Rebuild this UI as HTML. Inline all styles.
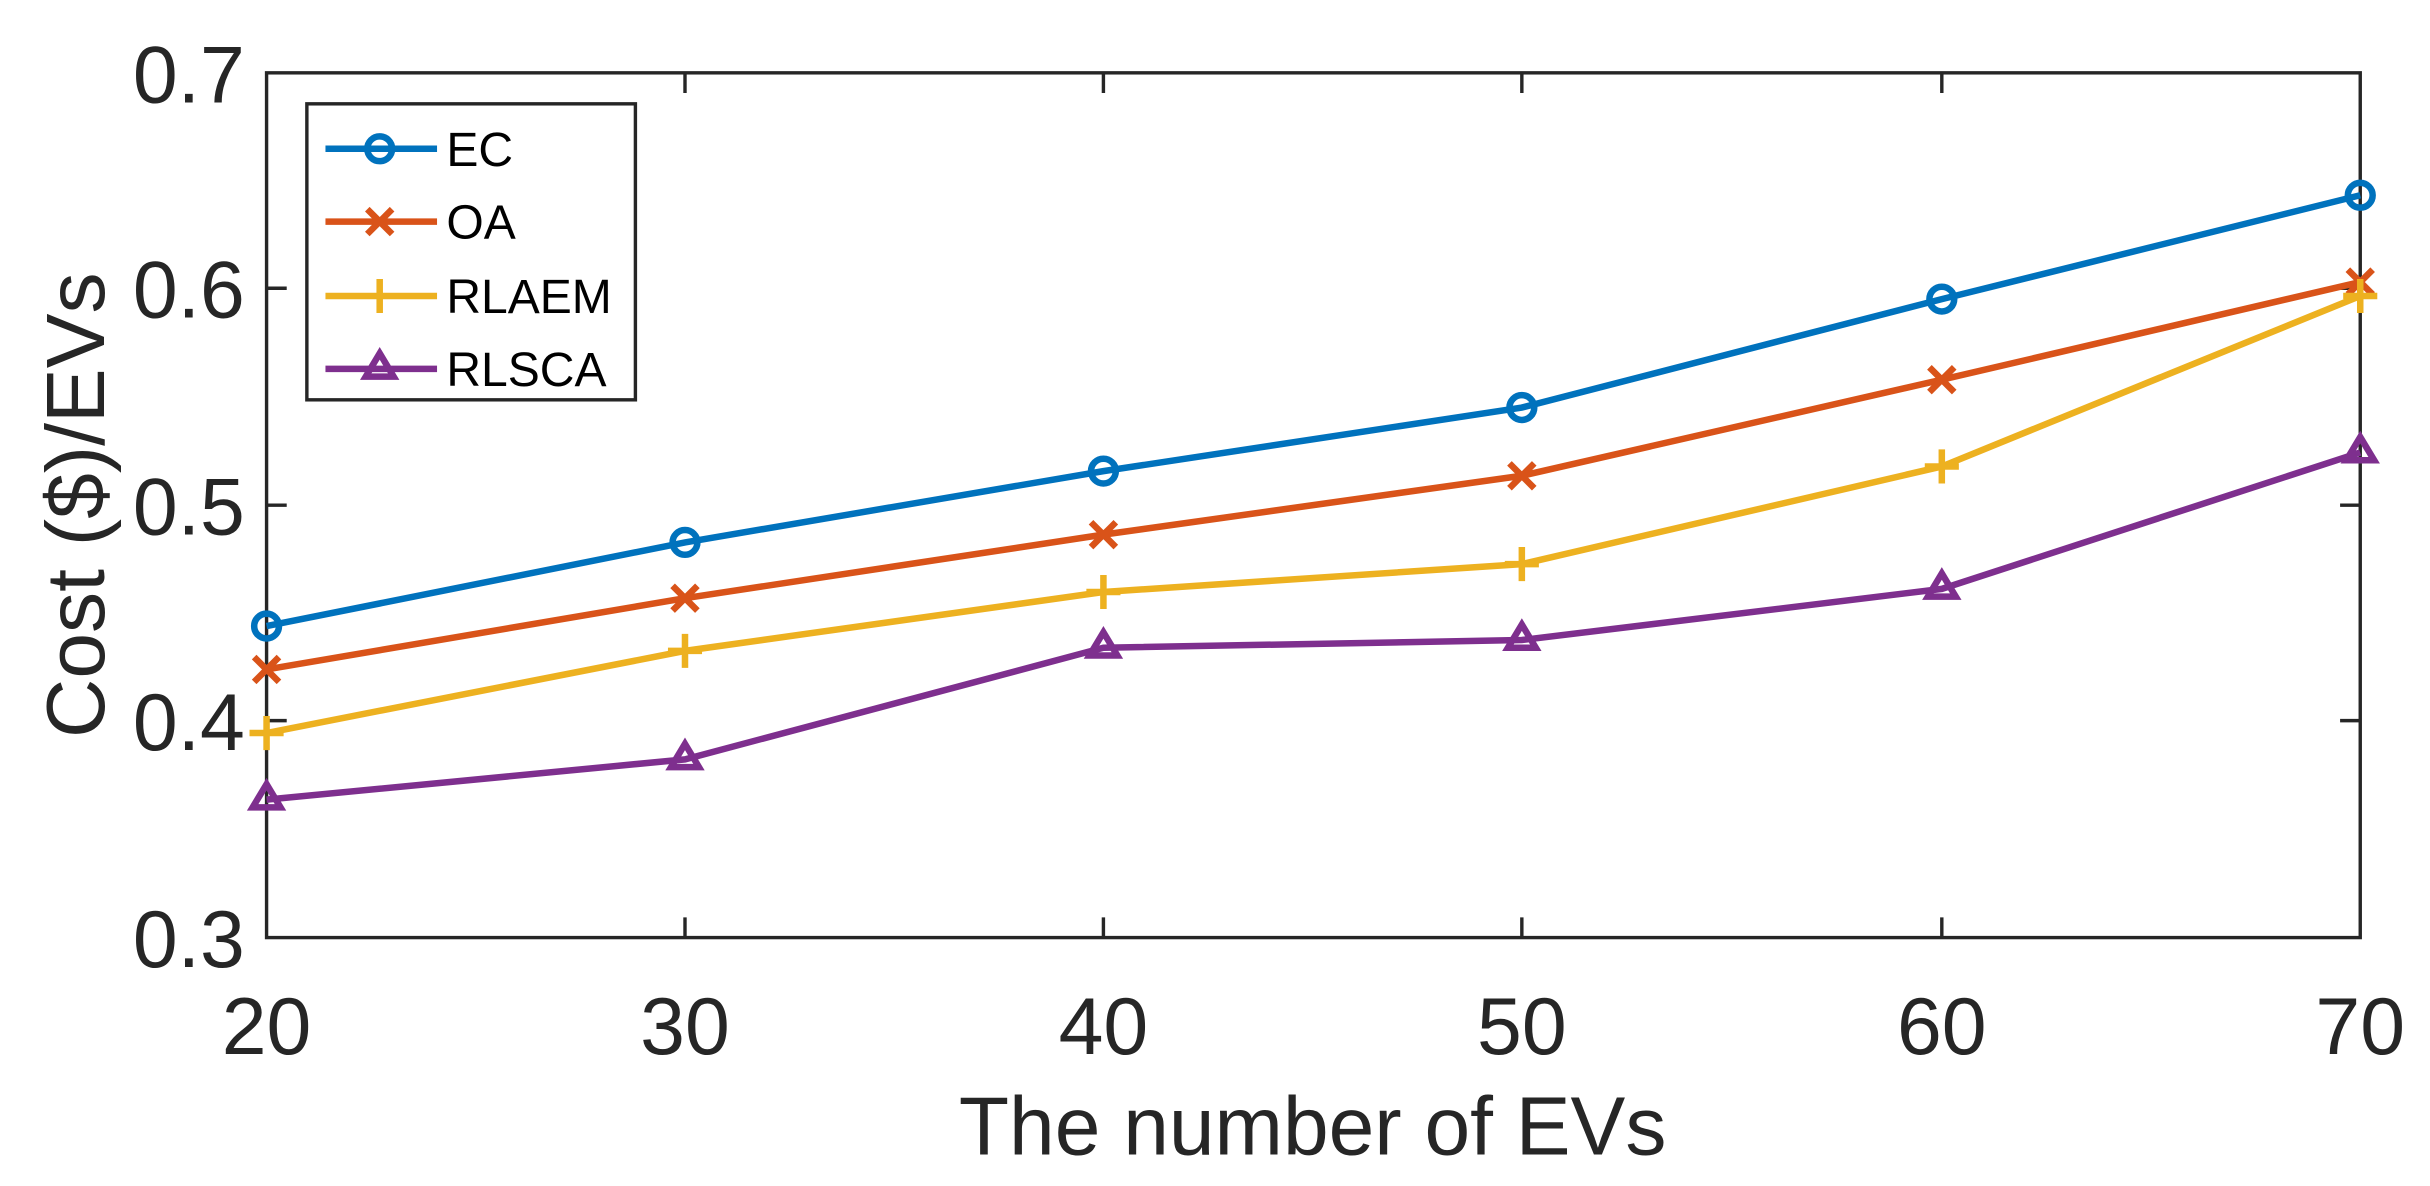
<!DOCTYPE html>
<html><head><style>html,body{margin:0;padding:0;background:#fff;}svg{display:block;}</style></head>
<body>
<svg width="2430" height="1186" viewBox="0 0 1568 765.3" xmlns="http://www.w3.org/2000/svg" font-family="Liberation Sans, sans-serif">
<rect width="1568" height="766" fill="#fff"/>
<g stroke="#262626" stroke-width="2.2" fill="none">
<rect x="172" y="47" width="1351" height="558"/>
<path d="M442 605v-13M712 605v-13M982 605v-13M1253 605v-13M442 47v13M712 47v13M982 47v13M1253 47v13"/>
<path d="M172 186h13M172 326h13M172 465h13M1523 186h-13M1523 326h-13M1523 465h-13"/>
</g>
<g fill="#262626" font-size="52" text-anchor="end">
<text x="158" y="66">0.7</text><text x="158" y="205">0.6</text><text x="158" y="345">0.5</text><text x="158" y="484">0.4</text><text x="158" y="624">0.3</text>
</g>
<g fill="#262626" font-size="52" text-anchor="middle">
<text x="172" y="680">20</text><text x="442" y="680">30</text><text x="712" y="680">40</text><text x="982" y="680">50</text><text x="1253" y="680">60</text><text x="1523" y="680">70</text>
<text x="847" y="745" font-size="53">The number of EVs</text>
<text transform="translate(67,326) rotate(-90)" font-size="53">Cost ($)/EVs</text>
</g>
<g fill="none" stroke-width="4.2">
<polyline stroke="#0072BD" points="172,404 442,350 712,304 982,263 1253,193 1523,126"/>
<polyline stroke="#D95319" points="172,432 442,386 712,345 982,307 1253,245 1523,182"/>
<polyline stroke="#EDB120" points="172,473 442,420 712,382 982,364 1253,301 1523,191"/>
<polyline stroke="#7E2F8E" points="172,516 442,490 712,418 982,413 1253,380 1523,292"/>
<g stroke="#0072BD"><circle cx="172" cy="404" r="8"/><circle cx="442" cy="350" r="8"/><circle cx="712" cy="304" r="8"/><circle cx="982" cy="263" r="8"/><circle cx="1253" cy="193" r="8"/><circle cx="1523" cy="126" r="8"/></g>
<g stroke="#D95319"><path d="M164 424l16 16M180 424l-16 16M434 378l16 16M450 378l-16 16M704 337l16 16M720 337l-16 16M974 299l16 16M990 299l-16 16M1245 237l16 16M1261 237l-16 16M1515 174l16 16M1531 174l-16 16"/></g>
<g stroke="#EDB120"><path d="M172 462v22M161 473h22M442 409v22M431 420h22M712 371v22M701 382h22M982 353v22M971 364h22M1253 290v22M1242 301h22M1523 180v22M1512 191h22"/></g>
<g stroke="#7E2F8E"><path d="M172 506l9 15h-18z"/><path d="M442 480l9 15h-18z"/><path d="M712 408l9 15h-18z"/><path d="M982 403l9 15h-18z"/><path d="M1253 370l9 15h-18z"/><path d="M1523 282l9 15h-18z"/></g>
</g>
<rect x="198" y="67" width="212" height="191" fill="#fff" stroke="#262626" stroke-width="2.2"/>
<g fill="none" stroke-width="4.2">
<path d="M210 96h72" stroke="#0072BD"/><circle cx="245" cy="96" r="8" stroke="#0072BD"/>
<path d="M210 143h72M237 135l16 16M253 135l-16 16" stroke="#D95319"/>
<path d="M210 191h72M245 180v22" stroke="#EDB120"/>
<path d="M210 238h72M245 228l9 15h-18z" stroke="#7E2F8E"/>
</g>
<g font-size="31" fill="#000">
<text x="288" y="107">EC</text><text x="288" y="154">OA</text><text x="288" y="202">RLAEM</text><text x="288" y="249">RLSCA</text>
</g>
</svg>
</body></html>
